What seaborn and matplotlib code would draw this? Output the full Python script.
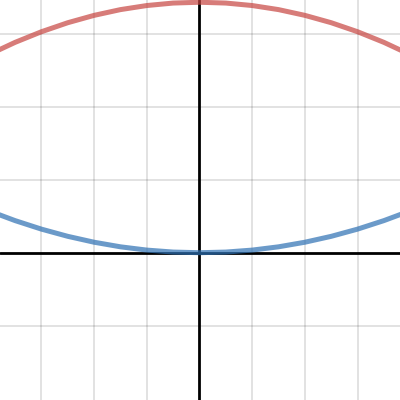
import matplotlib
matplotlib.use("Agg")
import matplotlib.pyplot as plt
import seaborn as sns
import pandas as pd

# Points (x in grid units, y in grid units)
x_vals = [-4.0, -3.5, -3.0, -2.5, -2.0, -1.5, -1.0, -0.5, 0.0,
          0.5, 1.0, 1.5, 2.0, 2.5, 3.0, 3.5, 4.0]
red_vals = [2.72, 2.889, 3.035, 3.159, 3.26, 3.339, 3.395, 3.429, 3.44,
            3.429, 3.395, 3.339, 3.26, 3.159, 3.035, 2.889, 2.72]
blue_vals = [0.576, 0.441, 0.324, 0.225, 0.144, 0.081, 0.036, 0.009, 0.0,
             0.009, 0.036, 0.081, 0.144, 0.225, 0.324, 0.441, 0.576]
grid_x = [-3, -2, -1, 1, 2, 3]
grid_y = [-1, 1, 2, 3]

sns.set_style("white")
fig = plt.figure(figsize=(4, 4), dpi=100)
ax = fig.add_axes([0, 0, 1, 1])

for gx in grid_x:
    ax.axvline(gx, color="black", alpha=0.15, lw=1.1, zorder=1)
for gy in grid_y:
    ax.axhline(gy, color="black", alpha=0.15, lw=1.1, zorder=1)
ax.axvline(0, color="black", lw=2.0, zorder=2)
ax.axhline(0, color="black", lw=2.0, zorder=2)

df = pd.DataFrame({"x": x_vals + x_vals,
                   "y": red_vals + blue_vals,
                   "s": ["red"] * len(x_vals) + ["blue"] * len(x_vals)})
sns.lineplot(data=df, x="x", y="y", hue="s",
             palette={"red": "#c74440", "blue": "#2d70b3"},
             linewidth=3.6, alpha=0.7, legend=False, ax=ax,
             zorder=3, sort=True, estimator=None)

ax.set_xlim(-3.786, 3.805)
ax.set_ylim(-2.023, 3.471)
ax.set_xticks([])
ax.set_yticks([])
ax.set_xlabel("")
ax.set_ylabel("")
for sp in ax.spines.values():
    sp.set_visible(False)

fig.savefig("out.png", dpi=100)
